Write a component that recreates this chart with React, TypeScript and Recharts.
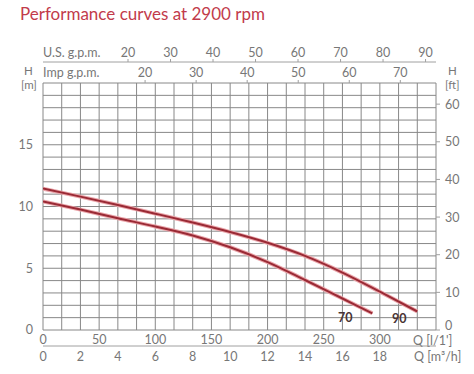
import { LineChart, Line, XAxis, YAxis, CartesianGrid } from 'recharts'

// flow in m3/h, head in m
const flow90 = [0, 2, 4, 6, 8, 10, 12, 14, 16, 18, 20]
const head90 = [11.45, 10.8, 10.12, 9.42, 8.7, 7.93, 7.06, 6.0, 4.65, 3.1, 1.5]
const flow70 = [0, 2, 4, 6, 8, 10, 12, 14, 16, 17.6]
const head70 = [10.4, 9.75, 9.05, 8.38, 7.65, 6.7, 5.5, 4.05, 2.55, 1.35]

const m3hTicks = [0, 1, 2, 3, 4, 5, 6, 7, 8, 9, 10, 11, 12, 13, 14, 15, 16, 17, 18, 19, 20, 21]
const headTicks = [0, 1, 2, 3, 4, 5, 6, 7, 8, 9, 10, 11, 12, 13, 14, 15, 16, 17, 18, 19, 20]
const feetTicks = [0, 10, 20, 30, 40, 50, 60]
const lminTicks = [0, 50, 100, 150, 200, 250, 300]
const usTicks = [20, 30, 40, 50, 60, 70, 80, 90]
const impTicks = [20, 30, 40, 50, 60, 70]

const Q_MAX = 21
const H_MAX = 20
const LMIN = 1000 / 60
const US = 4.40287
const IMP = 3.66615
const FT = 3.28084

const curve90 = flow90.map((q, i) => ({ q, h: head90[i], lmin: q * LMIN, us: q * US, imp: q * IMP }))
const curve70 = flow70.map((q, i) => ({ q, h: head70[i] }))

const font = 'Lato, "Open Sans", sans-serif'
const gray = '#777777'
const tickStyle = { fill: gray, fontSize: 12.5, fontFamily: font }

const endLabel = (text: string, last: number, dx: number, dy: number) => (p: any) =>
  p.index === last
    ? <text key='l' x={p.x + dx} y={p.y + dy} textAnchor='middle' dominantBaseline='central'
        style={{ fontFamily: font, fontWeight: 700, fontSize: 12.5, fill: '#4a3434' }}>{text}</text>
    : null

// right axis: the 0 sits a little higher than the rest
const FeetTick = (p: any) => (
  <text x={p.x} y={p.payload.value === 0 ? p.y - 4 : p.y} dy='0.355em' textAnchor='start'
    style={tickStyle}>{p.payload.value}</text>
)

const lbl = (x: number, y: number, s: string, size = 12.5) => (
  <div style={{ position: 'absolute', left: x, top: y, fontFamily: font, fontSize: size,
    color: gray, lineHeight: '11px', whiteSpace: 'nowrap' }}>{s}</div>
)

export default function App() {
  return (
    <div style={{ position: 'absolute', left: 0, top: 0, width: 474, height: 374, background: 'white' }}>
      <div style={{ position: 'absolute', left: 20, top: 3, fontFamily: font, fontSize: 17,
        color: '#c23b4b', whiteSpace: 'nowrap', lineHeight: '22px' }}>Performance curves at 2900 rpm</div>
      {lbl(43, 47, 'U.S.  g.p.m.')}
      {lbl(43, 67, 'Imp  g.p.m.')}
      {lbl(24, 65, 'H', 11.5)}
      {lbl(21, 79, '[m]', 11.5)}
      {lbl(448, 65, 'H', 11.5)}
      {lbl(445, 79, '[ft]', 11.5)}
      {lbl(413, 334.5, "Q [l/1']")}
      {lbl(414, 350.5, 'Q [m³/h]')}
      <LineChart width={474} height={374} data={curve90} margin={{ top: 42, right: 0, bottom: 0, left: 0 }}>
        <CartesianGrid xAxisId='m3h' yAxisId='m' stroke='#888888' strokeWidth={1} />
        <XAxis xAxisId='lmin' dataKey='lmin' type='number' orientation='bottom' domain={[0, Q_MAX * LMIN]}
          allowDataOverflow ticks={lminTicks} height={16} tickSize={0} tickMargin={5}
          axisLine={false} tickLine={false} tick={tickStyle} interval={0} />
        <XAxis xAxisId='m3h' dataKey='q' type='number' orientation='bottom' domain={[0, Q_MAX]}
          allowDataOverflow ticks={m3hTicks} height={28} tickSize={0} tickMargin={6}
          axisLine={{ stroke: '#a0a0a0' }} tickLine={false} tick={tickStyle} interval={0}
          tickFormatter={(v: number) => (v % 2 === 0 && v <= 18 ? String(v) : '')} />
        <XAxis xAxisId='imp' dataKey='imp' type='number' orientation='top' domain={[0, Q_MAX * IMP]}
          allowDataOverflow ticks={impTicks} height={21} tickSize={3} tickMargin={3}
          axisLine={false} tickLine={{ stroke: '#a0a0a0' }} tick={tickStyle} interval={0} />
        <XAxis xAxisId='us' dataKey='us' type='number' orientation='top' domain={[0, Q_MAX * US]}
          allowDataOverflow ticks={usTicks} height={20} tickSize={3} tickMargin={2}
          axisLine={{ stroke: '#a0a0a0' }} tickLine={{ stroke: '#a0a0a0' }} tick={tickStyle} interval={0} />
        <YAxis yAxisId='m' dataKey='h' type='number' domain={[0, H_MAX]} allowDataOverflow ticks={headTicks}
          width={43} tickSize={4} tickMargin={6} axisLine={false} tickLine={false} tick={tickStyle}
          interval={0} tickFormatter={(v: number) => (v % 5 === 0 && v <= 15 ? String(v) : '')} />
        <YAxis yAxisId='ft' orientation='right' type='number' domain={[0, H_MAX * FT]}
          allowDataOverflow ticks={feetTicks} width={38} tickSize={4} tickMargin={5}
          axisLine={false} tickLine={{ stroke: '#a0a0a0' }} tick={FeetTick} interval={0} />
        <Line xAxisId='m3h' yAxisId='m' data={curve90} dataKey='h' type='monotone'
          stroke='#eaa5aa' strokeWidth={4} dot={false} isAnimationActive={false} />
        <Line xAxisId='m3h' yAxisId='m' data={curve70} dataKey='h' type='monotone'
          stroke='#eaa5aa' strokeWidth={4} dot={false} isAnimationActive={false} />
        <Line xAxisId='m3h' yAxisId='m' data={curve90} dataKey='h' type='monotone'
          stroke='#9a2a35' strokeWidth={2} dot={false} isAnimationActive={false}
          label={endLabel('90', flow90.length - 1, -18, 7)} />
        <Line xAxisId='m3h' yAxisId='m' data={curve70} dataKey='h' type='monotone'
          stroke='#9a2a35' strokeWidth={2} dot={false} isAnimationActive={false}
          label={endLabel('70', flow70.length - 1, -27, 4)} />
      </LineChart>
    </div>
  )
}
